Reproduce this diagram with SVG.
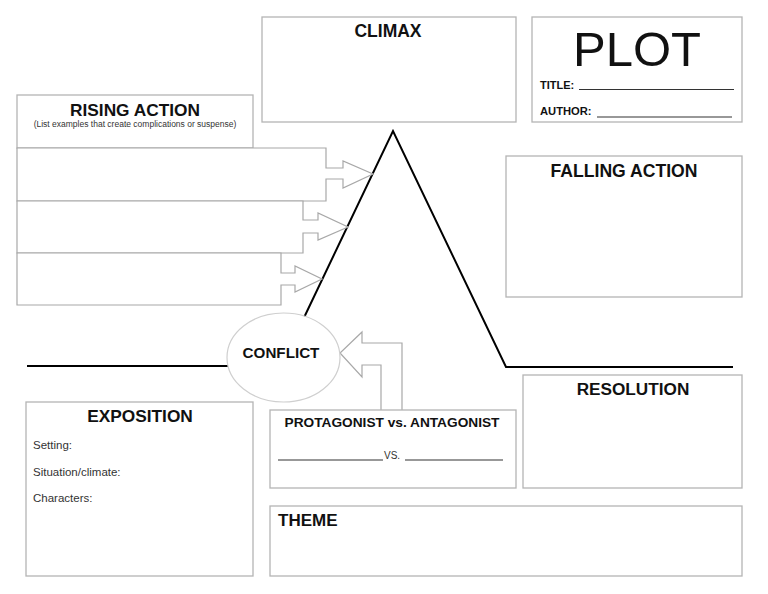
<svg xmlns="http://www.w3.org/2000/svg" width="768" height="594" viewBox="0 0 768 594">
<style>
.box{fill:#fff;stroke:#b4b4b4;stroke-width:1.3}
.arr{fill:#fff;stroke:#a8a8a8;stroke-width:1.2}
.plot{fill:none;stroke:#000;stroke-width:2}
.h{font-family:"Liberation Sans",Arial,sans-serif;font-weight:bold;fill:#111}
.t{font-family:"Liberation Sans",Arial,sans-serif;fill:#333}
.ul{stroke:#333;stroke-width:1.1}
</style>
<rect width="768" height="594" fill="#fff"/>
<g id="connectors">
<path class="plot" d="M27,366 H228"/>
<path class="plot" d="M300,326 L393,131 L506,367 H733"/>
<path class="arr" d="M381,410 V365 H362 V377 L340,353 L362,332 V343 H402 V410"/>
</g>
<g id="climax">
<rect class="box" x="262" y="17" width="254" height="105"/>
<text class="h" x="388" y="37" font-size="17.5" text-anchor="middle">CLIMAX</text>
</g>
<g id="plot">
<rect class="box" x="532" y="17" width="210" height="105"/>
<text x="637" y="66" font-family="Liberation Sans,Arial,sans-serif" font-size="49" text-anchor="middle" fill="#111">PLOT</text>
<text class="h" x="540" y="89" font-size="11">TITLE:</text>
<line class="ul" x1="579" y1="89.5" x2="734" y2="89.5"/>
<text class="h" x="540" y="115" font-size="11.2">AUTHOR:</text>
<line class="ul" x1="597" y1="117" x2="732" y2="117"/>
</g>
<g id="rising-action">
<rect class="box" x="17" y="95" width="236" height="53"/>
<text class="h" x="135" y="116" font-size="17.3" text-anchor="middle">RISING ACTION</text>
<text class="t" x="135" y="127" font-size="8.5" text-anchor="middle">(List examples that create complications or suspense)</text>
</g>
<g id="rising-1">
<path class="arr" d="M17,148 H326 V168 H343 V161 L373,174 L343,188 V179 H326 V201 H17 Z"/>
</g>
<g id="rising-2">
<path class="arr" d="M17,201 H303 V220 H318 V213 L348,227 L318,240 V233 H303 V253 H17 Z"/>
</g>
<g id="rising-3">
<path class="arr" d="M17,253 H281 V273 H295 V266 L322,279 L295,292 V285 H281 V305 H17 Z"/>
</g>
<g id="falling-action">
<rect class="box" x="506" y="156" width="236" height="141"/>
<text class="h" x="624" y="177" font-size="17.6" text-anchor="middle">FALLING ACTION</text>
</g>
<g id="conflict">
<ellipse cx="283.5" cy="357.5" rx="56.5" ry="44.5" fill="#fff" stroke="#cfcfcf" stroke-width="1.2"/>
<text class="h" x="281" y="358" font-size="15.2" text-anchor="middle">CONFLICT</text>
</g>
<g id="resolution">
<rect class="box" x="523" y="375" width="219" height="113"/>
<text class="h" x="633" y="395" font-size="17.2" text-anchor="middle">RESOLUTION</text>
</g>
<g id="protagonist">
<rect class="box" x="270" y="410" width="246" height="78"/>
<text class="h" x="392" y="427" font-size="13.7" text-anchor="middle">PROTAGONIST vs. ANTAGONIST</text>
<line class="ul" x1="278" y1="460" x2="383" y2="460"/>
<text class="t" x="384" y="459" font-size="10">VS.</text>
<line class="ul" x1="405" y1="460" x2="503" y2="460"/>
</g>
<g id="exposition">
<rect class="box" x="26" y="402" width="227" height="174"/>
<text class="h" x="140" y="422" font-size="17.3" text-anchor="middle">EXPOSITION</text>
<text class="t" x="33" y="449" font-size="11.5">Setting:</text>
<text class="t" x="33" y="476" font-size="11.5">Situation/climate:</text>
<text class="t" x="33" y="502" font-size="11.5">Characters:</text>
</g>
<g id="theme">
<rect class="box" x="270" y="506" width="472" height="70"/>
<text class="h" x="278" y="526" font-size="17">THEME</text>
</g>
</svg>
